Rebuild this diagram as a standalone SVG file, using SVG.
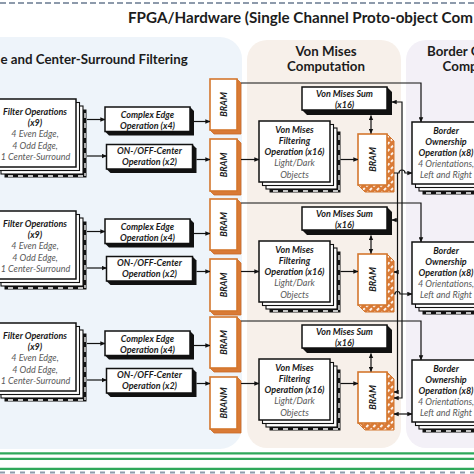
<svg xmlns="http://www.w3.org/2000/svg" width="474" height="474" viewBox="0 0 474 474">
<style>
text{font-family:Lato,'Open Sans','Liberation Sans',sans-serif}
.ttl{font-weight:700;font-size:13.3px;fill:#1c1c1c}
.bt{font-weight:700;font-style:italic;font-size:9px;fill:#1a1a1a;text-anchor:middle}
.gt{font-weight:400;font-style:italic;font-size:9px;fill:#5a5a5a;text-anchor:middle}
.card{fill:#fff;stroke:#111;stroke-width:1.5}
.lay{fill:#fff;stroke:#111;stroke-width:1.1}
.bk{fill:#111}
.dsh{fill:none;stroke:#fff;stroke-width:1.3;stroke-dasharray:5 5}
.ext{fill:#111}
.bram{fill:#fff;stroke:#d4772e;stroke-width:1.6}
.bext{fill:#d97a36;stroke:#c96b26;stroke-width:0.8}
.hext{fill:url(#hatch);stroke:#d4772e;stroke-width:1}
.ln{fill:none;stroke:#111;stroke-width:1.2}
.ar{marker-end:url(#ah)}
.ar2{marker-start:url(#ah);marker-end:url(#ah)}
</style>
<defs>
<marker id="ah" viewBox="0 0 6 6" refX="5.6" refY="3" markerWidth="5" markerHeight="5" markerUnits="userSpaceOnUse" orient="auto-start-reverse"><path d="M0,0.3 L6,3 L0,5.7 z" fill="#111"/></marker>
<pattern id="hatch" width="5" height="5" patternUnits="userSpaceOnUse" patternTransform="rotate(45)"><rect width="5" height="5" fill="#d97a36"/><rect width="1.8" height="3" fill="#fff"/></pattern>
</defs>
<rect width="474" height="474" fill="#fff"/>
<g id="frame">
<line x1="0" y1="3" x2="474" y2="3" stroke="#8d9aab" stroke-width="2" stroke-dasharray="6 3"/>
<text x="128" y="23" style="font-weight:700;font-size:15.2px;fill:#1c1c1c">FPGA/Hardware (Single Channel Proto-object Com</text>
<rect x="-30" y="37" width="272" height="412" rx="22" fill="#eef4fa"/>
<rect x="247" y="40" width="154" height="408" rx="20" fill="#f7f0ea"/>
<rect x="406" y="40" width="110" height="408" rx="20" fill="#f3f0f7"/>
<text class="ttl" x="0.5" y="64">e and Center-Surround Filtering</text>
<text class="ttl" x="326" y="56" text-anchor="middle">Von Mises</text>
<text class="ttl" x="326" y="71" text-anchor="middle">Computation</text>
<text class="ttl" x="481.5" y="56" text-anchor="middle">Border Ownership</text>
<text class="ttl" x="481.5" y="71" text-anchor="middle">Computation</text>
<line x1="0" y1="453.3" x2="474" y2="453.3" stroke="#2fa85a" stroke-width="2.2"/>
<line x1="0" y1="458.8" x2="474" y2="458.8" stroke="#2fa85a" stroke-width="2.2"/>
<line x1="0" y1="468.8" x2="474" y2="468.8" stroke="#2fa85a" stroke-width="2.2"/>
<line x1="0" y1="472.6" x2="474" y2="472.6" stroke="#8d9aab" stroke-width="2" stroke-dasharray="5 5"/>
</g>

<!-- Row 1 -->
<g id="filter1">
<rect class="bk" x="4.5" y="109.5" width="82" height="68"/>
<rect class="lay" x="1" y="106" width="82" height="68"/>
<rect class="lay" x="-2.5" y="102.5" width="82" height="68"/>
<rect class="card" x="-6" y="99" width="82" height="68"/>
<path class="dsh" d="M8 176H85M85 113V176"/>
<text class="bt" x="35" y="115">Filter Operations</text>
<text class="bt" x="35" y="126.2">(x9)</text>
<text class="gt" x="35" y="137.4">4 Even Edge,</text>
<text class="gt" x="35" y="148.6">4 Odd Edge,</text>
<text class="gt" x="35.5" y="159.8">1 Center-Surround</text>
</g>
<g id="complex1">
<polygon class="ext" points="190,107 194,111 194,135.5 109,135.5 105,131.5"/>
<rect class="card" x="105" y="107" width="85" height="24.5"/>
<text class="bt" x="147.5" y="117.5">Complex Edge</text>
<text class="bt" x="147.5" y="128.5">Operation (x4)</text>
</g>
<g id="onoff1">
<polygon class="ext" points="192.5,144.5 196.5,148.5 196.5,173 110.5,173 106.5,169"/>
<rect class="card" x="106.5" y="144.5" width="86" height="24.5"/>
<text class="bt" x="149.5" y="154">ON-/OFF-Center</text>
<text class="bt" x="149.5" y="165">Operation (x2)</text>
</g>
<g id="brama1">
<polygon class="bext" points="237,79 241,83 241,134 214,134 210,130"/>
<rect class="bram" x="210" y="79" width="27" height="51"/>
<text class="bt" transform="translate(226.7,104.5) rotate(-90)">BRAM</text>
</g>
<g id="bramb1">
<polygon class="bext" points="237,139 241,143 241,195 214,195 210,191"/>
<rect class="bram" x="210" y="139" width="27" height="52"/>
<text class="bt" transform="translate(226.7,165) rotate(-90)">BRAM</text>
</g>
<g id="vmsum1">
<polygon class="ext" points="387,87 392,92 392,115 307,115 302,110"/>
<rect class="card" x="302" y="87" width="85" height="23"/>
<text class="bt" x="344.5" y="97">Von Mises Sum</text>
<text class="bt" x="344.5" y="107.5">(x16)</text>
</g>
<g id="vmfilt1">
<rect class="bk" x="269.5" y="131.5" width="71" height="61"/>
<rect class="lay" x="266" y="128" width="71" height="61"/>
<rect class="lay" x="262.5" y="124.5" width="71" height="61"/>
<rect class="card" x="259" y="121" width="71" height="61"/>
<path class="dsh" d="M273 191H339M339 135V191"/>
<text class="bt" x="294.5" y="132.5">Von Mises</text>
<text class="bt" x="294.5" y="143.8">Filtering</text>
<text class="bt" x="294.5" y="155.1">Operation (x16)</text>
<text class="gt" x="294.5" y="166.4">Light/Dark</text>
<text class="gt" x="294.5" y="177.7">Objects</text>
</g>
<g id="bramc1">
<polygon class="hext" points="387,134 394,141 394,192 365,192 358,185"/>
<rect class="bram" x="358" y="134" width="29" height="51"/>
<text class="bt" transform="translate(375.7,159.5) rotate(-90)">BRAM</text>
</g>
<g id="border1">
<rect class="bk" x="422.5" y="132.5" width="80" height="62"/>
<rect class="lay" x="419" y="129" width="80" height="62"/>
<rect class="lay" x="415.5" y="125.5" width="80" height="62"/>
<rect class="card" x="412" y="122" width="80" height="62"/>
<path class="dsh" d="M426 193H480"/>
<text class="bt" x="446" y="133.5">Border</text>
<text class="bt" x="446" y="144.6">Ownership</text>
<text class="bt" x="446" y="155.7">Operation (x8)</text>
<text class="gt" x="446" y="166.8">4 Orientations,</text>
<text class="gt" x="446" y="177.9">Left and Right</text>
</g>

<!-- Row 2 -->
<g id="filter2">
<rect class="bk" x="4.5" y="221.5" width="82" height="68"/>
<rect class="lay" x="1" y="218" width="82" height="68"/>
<rect class="lay" x="-2.5" y="214.5" width="82" height="68"/>
<rect class="card" x="-6" y="211" width="82" height="68"/>
<path class="dsh" d="M8 288H85M85 225V288"/>
<text class="bt" x="35" y="227">Filter Operations</text>
<text class="bt" x="35" y="238.2">(x9)</text>
<text class="gt" x="35" y="249.4">4 Even Edge,</text>
<text class="gt" x="35" y="260.6">4 Odd Edge,</text>
<text class="gt" x="35.5" y="271.8">1 Center-Surround</text>
</g>
<g id="complex2">
<polygon class="ext" points="190,219 194,223 194,247.5 109,247.5 105,243.5"/>
<rect class="card" x="105" y="219" width="85" height="24.5"/>
<text class="bt" x="147.5" y="229.5">Complex Edge</text>
<text class="bt" x="147.5" y="240.5">Operation (x4)</text>
</g>
<g id="onoff2">
<polygon class="ext" points="192.5,256.5 196.5,260.5 196.5,285 110.5,285 106.5,281"/>
<rect class="card" x="106.5" y="256.5" width="86" height="24.5"/>
<text class="bt" x="149.5" y="266">ON-/OFF-Center</text>
<text class="bt" x="149.5" y="277">Operation (x2)</text>
</g>
<g id="brama2">
<polygon class="bext" points="237,199 241,203 241,254 214,254 210,250"/>
<rect class="bram" x="210" y="199" width="27" height="51"/>
<text class="bt" transform="translate(226.7,224.5) rotate(-90)">BRAM</text>
</g>
<g id="bramb2">
<polygon class="bext" points="237,259 241,263 241,315 214,315 210,311"/>
<rect class="bram" x="210" y="259" width="27" height="52"/>
<text class="bt" transform="translate(226.7,285) rotate(-90)">BRAM</text>
</g>
<g id="vmsum2">
<polygon class="ext" points="387,207 392,212 392,235 307,235 302,230"/>
<rect class="card" x="302" y="207" width="85" height="23"/>
<text class="bt" x="344.5" y="217">Von Mises Sum</text>
<text class="bt" x="344.5" y="227.5">(x16)</text>
</g>
<g id="vmfilt2">
<rect class="bk" x="269.5" y="251.5" width="71" height="61"/>
<rect class="lay" x="266" y="248" width="71" height="61"/>
<rect class="lay" x="262.5" y="244.5" width="71" height="61"/>
<rect class="card" x="259" y="241" width="71" height="61"/>
<path class="dsh" d="M273 311H339M339 255V311"/>
<text class="bt" x="294.5" y="252.5">Von Mises</text>
<text class="bt" x="294.5" y="263.8">Filtering</text>
<text class="bt" x="294.5" y="275.1">Operation (x16)</text>
<text class="gt" x="294.5" y="286.4">Light/Dark</text>
<text class="gt" x="294.5" y="297.7">Objects</text>
</g>
<g id="bramc2">
<polygon class="hext" points="387,254 394,261 394,312 365,312 358,305"/>
<rect class="bram" x="358" y="254" width="29" height="51"/>
<text class="bt" transform="translate(375.7,279.5) rotate(-90)">BRAM</text>
</g>
<g id="border2">
<rect class="bk" x="422.5" y="252.5" width="80" height="62"/>
<rect class="lay" x="419" y="249" width="80" height="62"/>
<rect class="lay" x="415.5" y="245.5" width="80" height="62"/>
<rect class="card" x="412" y="242" width="80" height="62"/>
<path class="dsh" d="M426 313H480"/>
<text class="bt" x="446" y="253.5">Border</text>
<text class="bt" x="446" y="264.6">Ownership</text>
<text class="bt" x="446" y="275.7">Operation (x8)</text>
<text class="gt" x="446" y="286.8">4 Orientations,</text>
<text class="gt" x="446" y="297.9">Left and Right</text>
</g>

<!-- Row 3 -->
<g id="filter3">
<rect class="bk" x="4.5" y="333.5" width="82" height="68"/>
<rect class="lay" x="1" y="330" width="82" height="68"/>
<rect class="lay" x="-2.5" y="326.5" width="82" height="68"/>
<rect class="card" x="-6" y="323" width="82" height="68"/>
<path class="dsh" d="M8 400H85M85 337V400"/>
<text class="bt" x="35" y="339">Filter Operations</text>
<text class="bt" x="35" y="350.2">(x9)</text>
<text class="gt" x="35" y="361.4">4 Even Edge,</text>
<text class="gt" x="35" y="372.6">4 Odd Edge,</text>
<text class="gt" x="35.5" y="383.8">1 Center-Surround</text>
</g>
<g id="complex3">
<polygon class="ext" points="190,331 194,335 194,359.5 109,359.5 105,355.5"/>
<rect class="card" x="105" y="331" width="85" height="24.5"/>
<text class="bt" x="147.5" y="341.5">Complex Edge</text>
<text class="bt" x="147.5" y="352.5">Operation (x4)</text>
</g>
<g id="onoff3">
<polygon class="ext" points="192.5,368.5 196.5,372.5 196.5,397 110.5,397 106.5,393"/>
<rect class="card" x="106.5" y="368.5" width="86" height="24.5"/>
<text class="bt" x="149.5" y="378">ON-/OFF-Center</text>
<text class="bt" x="149.5" y="389">Operation (x2)</text>
</g>
<g id="brama3">
<polygon class="bext" points="237,317 241,321 241,372 214,372 210,368"/>
<rect class="bram" x="210" y="317" width="27" height="51"/>
<text class="bt" transform="translate(226.7,342.5) rotate(-90)">BRAM</text>
</g>
<g id="bramb3">
<polygon class="bext" points="237,377 241,381 241,433 214,433 210,429"/>
<rect class="bram" x="210" y="377" width="27" height="52"/>
<text class="bt" transform="translate(226.7,403) rotate(-90)">BRANM</text>
</g>
<g id="vmsum3">
<polygon class="ext" points="387,325 392,330 392,353 307,353 302,348"/>
<rect class="card" x="302" y="325" width="85" height="23"/>
<text class="bt" x="344.5" y="335">Von Mises Sum</text>
<text class="bt" x="344.5" y="345.5">(x16)</text>
</g>
<g id="vmfilt3">
<rect class="bk" x="269.5" y="369.5" width="71" height="61"/>
<rect class="lay" x="266" y="366" width="71" height="61"/>
<rect class="lay" x="262.5" y="362.5" width="71" height="61"/>
<rect class="card" x="259" y="359" width="71" height="61"/>
<path class="dsh" d="M273 429H339M339 373V429"/>
<text class="bt" x="294.5" y="370.5">Von Mises</text>
<text class="bt" x="294.5" y="381.8">Filtering</text>
<text class="bt" x="294.5" y="393.1">Operation (x16)</text>
<text class="gt" x="294.5" y="404.4">Light/Dark</text>
<text class="gt" x="294.5" y="415.7">Objects</text>
</g>
<g id="bramc3">
<polygon class="hext" points="387,372 394,379 394,430 365,430 358,423"/>
<rect class="bram" x="358" y="372" width="29" height="51"/>
<text class="bt" transform="translate(375.7,397.5) rotate(-90)">BRAM</text>
</g>
<g id="border3">
<rect class="bk" x="422.5" y="370.5" width="80" height="62"/>
<rect class="lay" x="419" y="367" width="80" height="62"/>
<rect class="lay" x="415.5" y="363.5" width="80" height="62"/>
<rect class="card" x="412" y="360" width="80" height="62"/>
<path class="dsh" d="M426 431H480"/>
<text class="bt" x="446" y="371.5">Border</text>
<text class="bt" x="446" y="382.6">Ownership</text>
<text class="bt" x="446" y="393.7">Operation (x8)</text>
<text class="gt" x="446" y="404.8">4 Orientations,</text>
<text class="gt" x="446" y="415.9">Left and Right</text>
</g>

<g id="connectors" class="ln">
<path class="ar" d="M87 119.5H105"/>
<path class="ar" d="M87 156H106.5"/>
<path class="ar" d="M194 121.5H210"/>
<path class="ar" d="M196.5 159.5H210"/>
<path class="ar" d="M241 159.5H259"/>
<path class="ar" d="M340.5 159.5H358"/>
<path class="ar" d="M87 231.5H105"/>
<path class="ar" d="M87 268H106.5"/>
<path class="ar" d="M194 233.5H210"/>
<path class="ar" d="M196.5 271.5H210"/>
<path class="ar" d="M241 271.5H259"/>
<path class="ar" d="M340.5 271.5H358"/>
<path class="ar" d="M87 343.5H105"/>
<path class="ar" d="M87 380H106.5"/>
<path class="ar" d="M194 345.5H210"/>
<path class="ar" d="M196.5 383.5H210"/>
<path class="ar" d="M241 383.5H259"/>
<path class="ar" d="M340.5 383.5H358"/>
<path class="ar" d="M241 83H421V122"/>
<path class="ar" d="M241 203H421V242"/>
<path class="ar" d="M241 321H421V360"/>
<path class="ar2" d="M371 115.5V133.5"/>
<path class="ar2" d="M371 235.5V253.5"/>
<path class="ar2" d="M371 353.5V371.5"/>
<path class="ar2" d="M392 102H402V398H394"/>
<path class="ar" d="M397.5 173V392H394"/>
<path class="ar" d="M397.5 220H392"/>
<path class="ar" d="M397.5 272H394"/>
<path class="ar" d="M394 173H399A3 3 0 0 1 405 173H412"/>
<path class="ar" d="M394 294H395A2.5 2.5 0 0 1 400 294H412"/>
<path class="ar2" d="M394 414H412"/>
</g>
</svg>
